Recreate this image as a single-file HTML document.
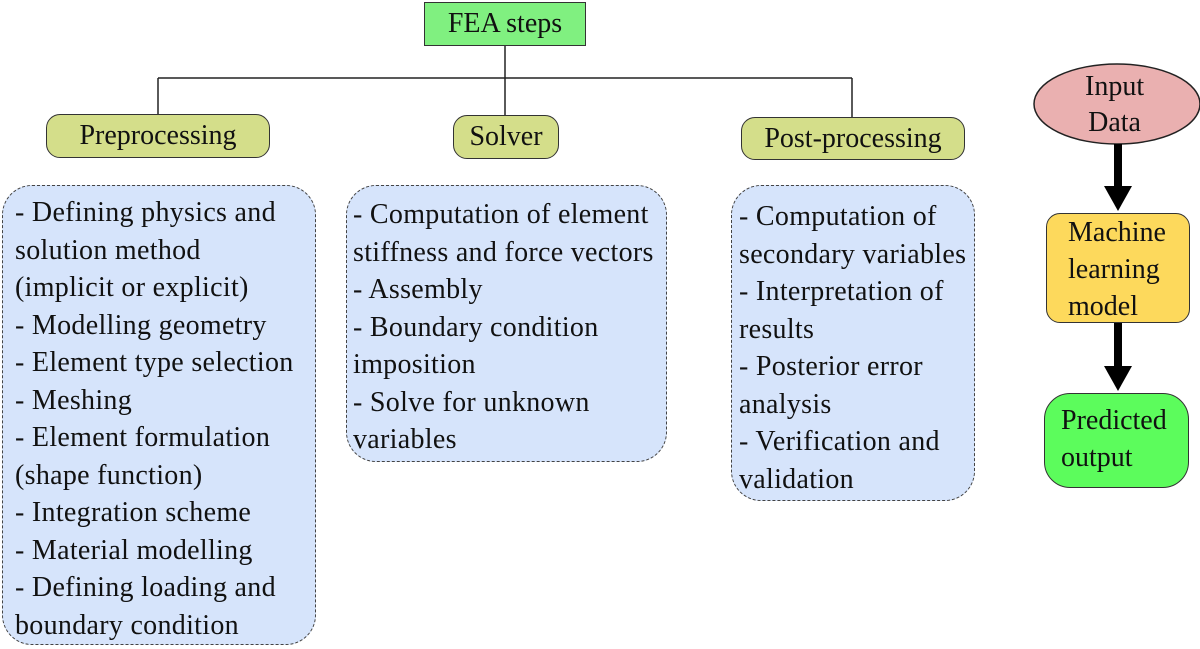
<!DOCTYPE html>
<html><head><meta charset="utf-8"><style>
body{margin:0;background:#fff;width:1200px;height:649px;position:relative;overflow:hidden;font-family:"Liberation Serif",serif;color:#111}
.b{position:absolute;box-sizing:border-box;border:1.5px solid #333}
.t{position:absolute;font-size:28px;line-height:37.5px;white-space:nowrap}
.c{display:flex;align-items:center;justify-content:center;text-align:center;font-size:28px}
.d{position:absolute;box-sizing:border-box;border:1.5px dashed #444;background:#d6e4fb;border-radius:30px;padding:10px 0 0 12px;font-size:28px;letter-spacing:0.3px;line-height:37.5px;white-space:nowrap}
</style></head><body>
<svg width="1200" height="649" style="position:absolute;left:0;top:0">
<g stroke="#222" stroke-width="1.5" fill="none">
<line x1="505" y1="46" x2="505" y2="116"/>
<line x1="158" y1="78" x2="852" y2="78"/>
<line x1="158" y1="78" x2="158" y2="115"/>
<line x1="852" y1="78" x2="852" y2="117"/>
</g>
<ellipse cx="1117" cy="104" rx="83" ry="40" fill="#eab0b0" stroke="#222" stroke-width="1.5"/>
<rect x="1114" y="144" width="8" height="44" fill="#000"/>
<polygon points="1104,186 1132,186 1118,211" fill="#000"/>
<rect x="1114" y="323" width="8" height="44" fill="#000"/>
<polygon points="1104,366 1132,366 1118,391" fill="#000"/>
</svg>
<div class="b c" style="left:424px;top:2px;width:162px;height:44px;background:#80f080">FEA steps</div>
<div class="b c" style="left:46px;top:114px;width:224px;height:44px;background:#d4de8a;border-radius:14px">Preprocessing</div>
<div class="b c" style="left:453px;top:115px;width:106px;height:44px;background:#d4de8a;border-radius:14px">Solver</div>
<div class="b c" style="left:741px;top:117px;width:224px;height:43px;background:#d4de8a;border-radius:14px">Post-processing</div>
<div class="d" style="left:2px;top:185px;width:314px;height:460px;padding-left:12px;padding-top:8px">- Defining physics and<br>solution method<br>(implicit or explicit)<br>- Modelling geometry<br>- Element type selection<br>- Meshing<br>- Element formulation<br>(shape function)<br>- Integration scheme<br>- Material modelling<br>- Defining loading and<br>boundary condition</div>
<div class="d" style="left:346px;top:185px;width:321px;height:277px;padding-left:6px;padding-top:10px">- Computation of element<br>stiffness and force vectors<br>- Assembly<br>- Boundary condition<br>imposition<br>- Solve for unknown<br>variables</div>
<div class="d" style="left:731px;top:185px;width:244px;height:316px;padding-left:7px;padding-top:12px">- Computation of<br>secondary variables<br>- Interpretation of<br>results<br>- Posterior error<br>analysis<br>- Verification and<br>validation</div>
<div class="t" style="left:1085px;top:69px;line-height:36px;text-align:center">Input<br>Data</div>
<div class="b" style="left:1046px;top:213px;width:144px;height:110px;background:#fdd95c;border-radius:14px;padding:0 0 0 21px;font-size:28px;line-height:37px">Machine<br>learning<br>model</div>
<div class="b" style="left:1044px;top:393px;width:145px;height:95px;background:#5cfc5c;border-radius:26px;padding:8px 0 0 16px;font-size:28px;line-height:37px">Predicted<br>output</div>
</body></html>
